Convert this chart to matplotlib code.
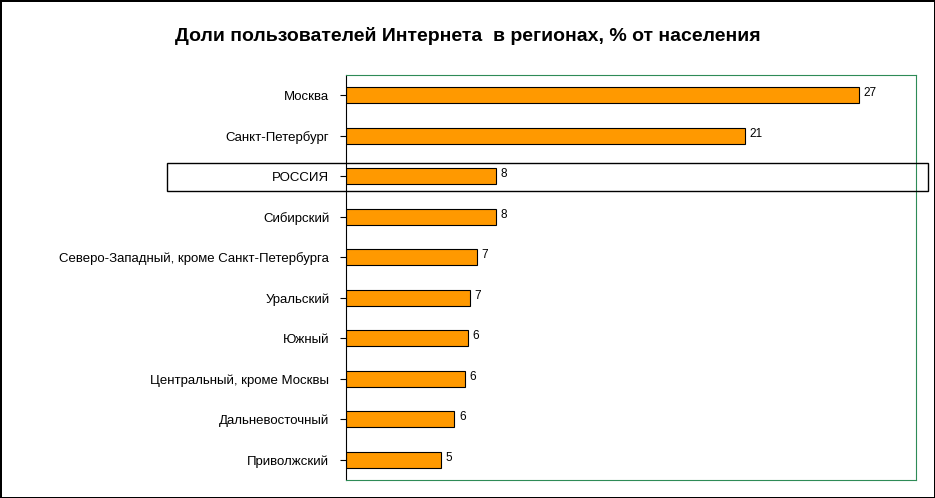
import matplotlib.pyplot as plt
from matplotlib.patches import Rectangle

regions = ['Москва', 'Санкт-Петербург', 'РОССИЯ', 'Сибирский',
           'Северо-Западный, кроме Санкт-Петербурга', 'Уральский', 'Южный',
           'Центральный, кроме Москвы', 'Дальневосточный', 'Приволжский']
values = [27.0, 21.0, 7.9, 7.9, 6.9, 6.5, 6.4, 6.25, 5.7, 5.0]
labels = ['27', '21', '8', '8', '7', '7', '6', '6', '6', '5']

fig = plt.figure(figsize=(9.35, 4.98), dpi=100)
fig.patch.set_edgecolor('black')
fig.patch.set_linewidth(2)
ax = fig.add_axes([346 / 935, 1 - 480 / 498, 570 / 935, 405 / 498])

y = list(range(len(regions)))
ax.barh(y, values, height=0.4, color='#FF9900', edgecolor='black', linewidth=0.8)
for yi, v, lab in zip(y, values, labels):
    ax.text(v + 0.25, yi - 0.05, lab, va='center', ha='left', fontsize=8.5, family='Liberation Sans')

ax.set_xlim(0, 30)
ax.set_ylim(len(regions) - 0.5, -0.5)
ax.set_yticks(y)
ax.set_yticklabels(regions, fontsize=9.5, family='Liberation Sans')
ax.set_xticks([])
ax.tick_params(axis='y', length=4, pad=8)
for s in ax.spines.values():
    s.set_color('#2E8B57')
ax.spines['left'].set_color('black')

# frame around RUSSIA row
fig.add_artist(Rectangle((167 / 935, 1 - 191 / 498), (928 - 167) / 935, 28 / 498,
                         transform=fig.transFigure, fill=False, edgecolor='black', linewidth=1))

fig.text(0.5, 1 - 36 / 498, 'Доли пользователей Интернета  в регионах, % от населения',
         ha='center', va='center', fontsize=14, fontweight='bold', family='Liberation Sans')

fig.savefig('out.png', dpi=100, edgecolor=fig.get_edgecolor())
